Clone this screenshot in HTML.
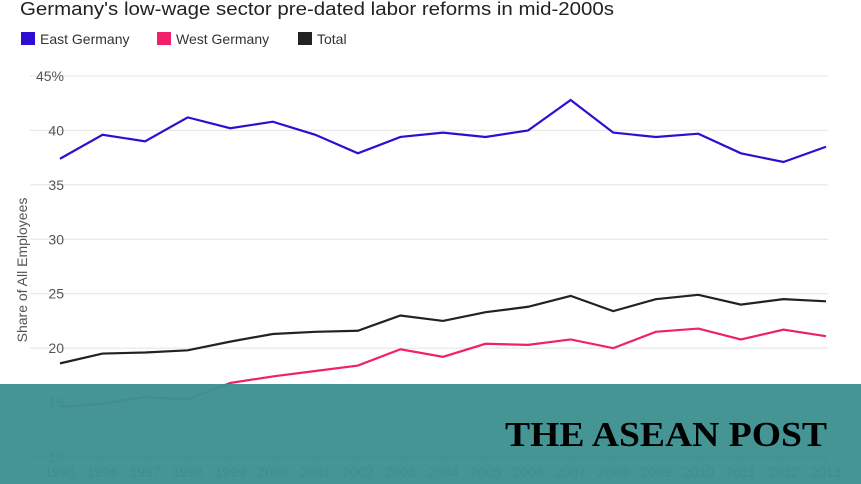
<!DOCTYPE html>
<html><head><meta charset="utf-8"><style>
body{margin:0;background:#fff;width:861px;height:484px;overflow:hidden;font-family:"Liberation Sans",sans-serif}
</style></head><body>
<svg id="c" width="861" height="484" style="position:absolute;left:0;top:0">
<text x="20" y="15" font-size="18" textLength="594" lengthAdjust="spacingAndGlyphs" fill="#222">Germany's low-wage sector pre-dated labor reforms in mid-2000s</text>
<g>
<rect x="21" y="32" width="14" height="13" fill="#2d0fd1"/>
<text x="40" y="44" font-size="14" fill="#333">East Germany</text>
<rect x="157" y="32" width="14" height="13" fill="#f0216a"/>
<text x="176" y="44" font-size="14" fill="#333">West Germany</text>
<rect x="298" y="32" width="14" height="13" fill="#222"/>
<text x="317" y="44" font-size="14" fill="#333">Total</text>
</g>
<text transform="translate(27,270) rotate(-90)" text-anchor="middle" font-size="14" fill="#555">Share of All Employees</text>
<g id="grid"></g><g id="lines"></g>
<rect x="0" y="384" width="861" height="100" fill="#3c918f" opacity="0.96"/>
<text x="505" y="446" textLength="322" lengthAdjust="spacingAndGlyphs" font-family="Liberation Serif,serif" font-weight="bold" font-size="35" fill="#000">THE ASEAN POST</text>
</svg>
<script>
const years=[1995,1996,1997,1998,1999,2000,2001,2002,2003,2004,2005,2006,2007,2008,2009,2010,2011,2012,2013];
const east=[37.4,39.6,39.0,41.2,40.2,40.8,39.6,37.9,39.4,39.8,39.4,40.0,42.8,39.8,39.4,39.7,37.9,37.1,38.5];
const west=[14.6,14.9,15.5,15.3,16.8,17.4,17.9,18.4,19.9,19.2,20.4,20.3,20.8,20.0,21.5,21.8,20.8,21.7,21.1];
const total=[18.6,19.5,19.6,19.8,20.6,21.3,21.5,21.6,23.0,22.5,23.3,23.8,24.8,23.4,24.5,24.9,24.0,24.5,24.3];
const yTicks=[10,15,20,25,30,35,40,45];
const NS="http://www.w3.org/2000/svg";
const x=i=>60+i*(826-60)/(years.length-1);
const y=v=>457-(v-10)*(457-76)/35;
const grid=document.getElementById('grid'),lines=document.getElementById('lines');
function mk(t,a,p){const e=document.createElementNS(NS,t);for(const k in a)e.setAttribute(k,a[k]);p.appendChild(e);return e;}
yTicks.forEach(v=>{
 const l=mk('line',{x1:30,x2:828,y1:y(v),y2:y(v),stroke:v===10?'#999':'#e4e4e4','stroke-width':1},grid);
 
 
 const t=mk('text',{x:64,y:y(v)+5,'text-anchor':'end','font-size':14,fill:'#555'},grid);
 t.textContent=v===45?'45%':v;
 
 
});
years.forEach((yr,i)=>{
 const tk=mk('line',{x1:x(i),x2:x(i),y1:457,y2:462,stroke:'#999'},grid);
 
 
 const t=mk('text',{x:x(i),y:477,'text-anchor':'middle','font-size':14,fill:'#555'},grid);
 t.textContent=yr;
 
 
});
[[east,'#2d0fd1','east-germany-line'],[west,'#f0216a','west-germany-line'],[total,'#222','total-line']].forEach(([d,c,n])=>{
 const p=mk('polyline',{points:d.map((v,i)=>x(i)+','+y(v)).join(' '),fill:'none',stroke:c,'stroke-width':2.2},lines);
 
 
});
</script>
</body></html>
